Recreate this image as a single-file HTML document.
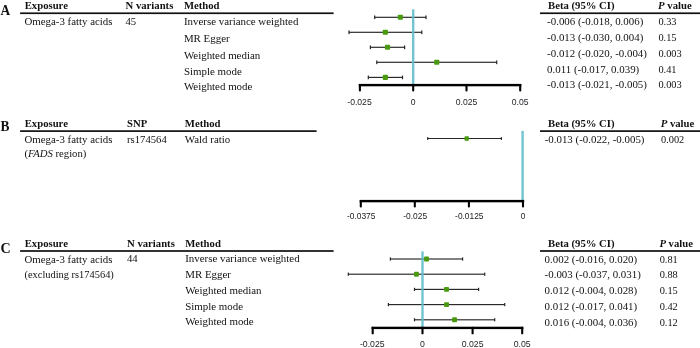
<!DOCTYPE html>
<html><head><meta charset="utf-8"><title>Forest plot</title>
<style>
html,body{margin:0;padding:0;background:#fff;}
body{width:700px;height:348px;overflow:hidden;}
svg{display:block;}
text.s{font-family:"Liberation Serif", serif;}
text.a{font-family:"Liberation Sans", sans-serif;}
text.b{font-weight:bold;}
</style></head><body>
<svg width="700" height="348" viewBox="0 0 700 348">
<rect width="700" height="348" fill="#fff"/>
<text transform="translate(0.6 14.65) scale(1 1.1)" class="s b" font-size="13.4" text-anchor="start" fill="#111" >A</text>
<text transform="translate(24.7 8.9) scale(1 1.05)" class="s b" font-size="10.7" text-anchor="start" fill="#111" >Exposure</text>
<text transform="translate(125.5 8.9) scale(1 1.05)" class="s b" font-size="10.7" text-anchor="start" fill="#111" >N variants</text>
<text transform="translate(183.9 8.9) scale(1 1.05)" class="s b" font-size="10.7" text-anchor="start" fill="#111" >Method</text>
<text transform="translate(548 8.9) scale(1 1.05)" class="s b" font-size="10.7" text-anchor="start" fill="#111" >Beta (95% CI)</text>
<text transform="translate(658.1 8.9) scale(1 1.05)" class="s b" font-size="10.7" fill="#111"><tspan font-style="italic">P</tspan> value</text>
<rect x="20.1" y="12.4" width="313.5" height="1.7" fill="#111"/>
<rect x="540" y="12.4" width="160" height="1.7" fill="#111"/>
<text x="24.5" y="24.9" class="s " font-size="10.85" text-anchor="start" fill="#111" >Omega-3 fatty acids</text>
<text x="125.5" y="24.6" class="s " font-size="10.7" text-anchor="start" fill="#111" >45</text>
<text x="183.9" y="24.6" class="s " font-size="10.92" text-anchor="start" fill="#111" >Inverse variance weighted</text>
<text x="183.9" y="42" class="s " font-size="10.92" text-anchor="start" fill="#111" >MR Egger</text>
<text x="183.9" y="58.8" class="s " font-size="10.92" text-anchor="start" fill="#111" >Weighted median</text>
<text x="183.9" y="74.7" class="s " font-size="10.92" text-anchor="start" fill="#111" >Simple mode</text>
<text x="183.9" y="90.4" class="s " font-size="10.92" text-anchor="start" fill="#111" >Weighted mode</text>
<text x="547.1" y="25.2" class="s " font-size="10.9" text-anchor="start" fill="#111" >-0.006 (-0.018, 0.006)</text>
<text x="547.1" y="40.7" class="s " font-size="10.9" text-anchor="start" fill="#111" >-0.013 (-0.030, 0.004)</text>
<text x="547.1" y="56.8" class="s " font-size="10.9" text-anchor="start" fill="#111" >-0.012 (-0.020, -0.004)</text>
<text x="547.1" y="72.6" class="s " font-size="10.9" text-anchor="start" fill="#111" >0.011 (-0.017, 0.039)</text>
<text x="547.1" y="88.2" class="s " font-size="10.9" text-anchor="start" fill="#111" >-0.013 (-0.021, -0.005)</text>
<text x="658.4" y="25.2" class="s " font-size="10.35" text-anchor="start" fill="#111" >0.33</text>
<text x="658.4" y="40.7" class="s " font-size="10.35" text-anchor="start" fill="#111" >0.15</text>
<text x="658.4" y="56.8" class="s " font-size="10.35" text-anchor="start" fill="#111" >0.003</text>
<text x="658.4" y="72.6" class="s " font-size="10.35" text-anchor="start" fill="#111" >0.41</text>
<text x="658.4" y="88.2" class="s " font-size="10.35" text-anchor="start" fill="#111" >0.003</text>
<rect x="374.7" y="16.73" width="51.4" height="1.15" fill="#262626"/>
<rect x="374.1" y="15.45" width="1.2" height="3.7" fill="#262626"/>
<rect x="425.4" y="15.45" width="1.2" height="3.7" fill="#262626"/>
<rect x="349.0" y="31.72" width="72.8" height="1.15" fill="#262626"/>
<rect x="348.4" y="30.45" width="1.2" height="3.7" fill="#262626"/>
<rect x="421.2" y="30.45" width="1.2" height="3.7" fill="#262626"/>
<rect x="370.4" y="46.72" width="34.2" height="1.15" fill="#262626"/>
<rect x="369.8" y="45.45" width="1.2" height="3.7" fill="#262626"/>
<rect x="404.0" y="45.45" width="1.2" height="3.7" fill="#262626"/>
<rect x="376.8" y="61.72" width="119.8" height="1.15" fill="#262626"/>
<rect x="376.2" y="60.45" width="1.2" height="3.7" fill="#262626"/>
<rect x="496.1" y="60.45" width="1.2" height="3.7" fill="#262626"/>
<rect x="368.3" y="76.83" width="34.2" height="1.15" fill="#262626"/>
<rect x="367.7" y="75.55" width="1.2" height="3.7" fill="#262626"/>
<rect x="401.9" y="75.55" width="1.2" height="3.7" fill="#262626"/>
<rect x="412.0" y="9.3" width="2.4" height="76.9" fill="#62bfcd" fill-opacity="0.9"/>
<rect x="397.8" y="14.75" width="5.1" height="5.1" rx="0.8" fill="#4a9a10"/>
<rect x="382.8" y="29.75" width="5.1" height="5.1" rx="0.8" fill="#4a9a10"/>
<rect x="385.0" y="44.75" width="5.1" height="5.1" rx="0.8" fill="#4a9a10"/>
<rect x="434.2" y="59.75" width="5.1" height="5.1" rx="0.8" fill="#4a9a10"/>
<rect x="382.8" y="74.85" width="5.1" height="5.1" rx="0.8" fill="#4a9a10"/>
<rect x="358.75" y="83.9" width="162.60" height="2.4" fill="#000"/>
<rect x="358.85" y="83.9" width="2.1" height="7.6" rx="0.9" fill="#000"/>
<rect x="412.15" y="83.9" width="2.1" height="7.6" rx="0.9" fill="#000"/>
<rect x="465.45" y="83.9" width="2.1" height="7.6" rx="0.9" fill="#000"/>
<rect x="519.15" y="83.9" width="2.1" height="7.6" rx="0.9" fill="#000"/>
<text x="359.5" y="104.6" class="a " font-size="8.6" text-anchor="middle" fill="#1c1c22" >-0.025</text>
<text x="413.2" y="104.6" class="a " font-size="8.6" text-anchor="middle" fill="#1c1c22" >0</text>
<text x="466.5" y="104.6" class="a " font-size="8.6" text-anchor="middle" fill="#1c1c22" >0.025</text>
<text x="520.2" y="104.6" class="a " font-size="8.6" text-anchor="middle" fill="#1c1c22" >0.05</text>
<text transform="translate(0.6 130.8) scale(1 1.1)" class="s b" font-size="13.4" text-anchor="start" fill="#111" >B</text>
<text transform="translate(24.7 126.8) scale(1 1.05)" class="s b" font-size="10.7" text-anchor="start" fill="#111" >Exposure</text>
<text transform="translate(127 126.8) scale(1 1.05)" class="s b" font-size="10.7" text-anchor="start" fill="#111" >SNP</text>
<text transform="translate(184.8 126.8) scale(1 1.05)" class="s b" font-size="10.7" text-anchor="start" fill="#111" >Method</text>
<text transform="translate(548 126.8) scale(1 1.05)" class="s b" font-size="10.7" text-anchor="start" fill="#111" >Beta (95% CI)</text>
<text transform="translate(660.7 126.8) scale(1 1.05)" class="s b" font-size="10.7" fill="#111"><tspan font-style="italic">P</tspan> value</text>
<rect x="20.1" y="130.25" width="296.5" height="1.7" fill="#111"/>
<rect x="540" y="130.25" width="160" height="1.7" fill="#111"/>
<text x="24.5" y="142.7" class="s " font-size="10.85" text-anchor="start" fill="#111" >Omega-3 fatty acids</text>
<text x="24.5" y="157.1" class="s " font-size="10.7" text-anchor="start" fill="#111" >(<tspan font-style="italic">FADS</tspan> region)</text>
<text x="127" y="142.7" class="s " font-size="10.7" text-anchor="start" fill="#111" >rs174564</text>
<text x="184.8" y="142.7" class="s " font-size="10.92" text-anchor="start" fill="#111" >Wald ratio</text>
<text x="544.7" y="142.7" class="s " font-size="10.9" text-anchor="start" fill="#111" >-0.013 (-0.022, -0.005)</text>
<text x="661" y="142.7" class="s " font-size="10.35" text-anchor="start" fill="#111" >0.002</text>
<rect x="427.7" y="138.00" width="73.6" height="1.0" fill="#262626"/>
<rect x="427.1" y="137.10" width="1.2" height="2.8" fill="#262626"/>
<rect x="500.8" y="137.10" width="1.2" height="2.8" fill="#262626"/>
<rect x="521.4" y="130.9" width="2.4" height="71.3" fill="#62bfcd" fill-opacity="0.9"/>
<rect x="464.5" y="136.30" width="4.4" height="4.4" rx="0.8" fill="#4a9a10"/>
<rect x="359.65" y="199.9" width="164.50" height="2.4" fill="#000"/>
<rect x="359.75" y="199.9" width="2.1" height="7.6" rx="0.9" fill="#000"/>
<rect x="413.75" y="199.9" width="2.1" height="7.6" rx="0.9" fill="#000"/>
<rect x="467.85" y="199.9" width="2.1" height="7.6" rx="0.9" fill="#000"/>
<rect x="521.95" y="199.9" width="2.1" height="7.6" rx="0.9" fill="#000"/>
<text x="361.2" y="218.9" class="a " font-size="8.4" text-anchor="middle" fill="#1c1c22" >-0.0375</text>
<text x="415.2" y="218.9" class="a " font-size="8.4" text-anchor="middle" fill="#1c1c22" >-0.025</text>
<text x="469.3" y="218.9" class="a " font-size="8.4" text-anchor="middle" fill="#1c1c22" >-0.0125</text>
<text x="523" y="218.9" class="a " font-size="8.4" text-anchor="middle" fill="#1c1c22" >0</text>
<text transform="translate(0.6 252.5) scale(1 1.1)" class="s b" font-size="14.1" text-anchor="start" fill="#111" >C</text>
<text transform="translate(24.7 246.7) scale(1 1.05)" class="s b" font-size="10.7" text-anchor="start" fill="#111" >Exposure</text>
<text transform="translate(127 246.7) scale(1 1.05)" class="s b" font-size="10.7" text-anchor="start" fill="#111" >N variants</text>
<text transform="translate(185.2 246.7) scale(1 1.05)" class="s b" font-size="10.7" text-anchor="start" fill="#111" >Method</text>
<text transform="translate(548 246.7) scale(1 1.05)" class="s b" font-size="10.7" text-anchor="start" fill="#111" >Beta (95% CI)</text>
<text transform="translate(659.4000000000001 246.7) scale(1 1.05)" class="s b" font-size="10.7" fill="#111"><tspan font-style="italic">P</tspan> value</text>
<rect x="20.1" y="250.15" width="313.5" height="1.7" fill="#111"/>
<rect x="540" y="250.15" width="160" height="1.7" fill="#111"/>
<text x="24.5" y="262.5" class="s " font-size="10.85" text-anchor="start" fill="#111" >Omega-3 fatty acids</text>
<text x="24.5" y="277.9" class="s " font-size="10.42" text-anchor="start" fill="#111" >(excluding rs174564)</text>
<text x="127" y="262.2" class="s " font-size="10.7" text-anchor="start" fill="#111" >44</text>
<text x="185.2" y="262.2" class="s " font-size="10.92" text-anchor="start" fill="#111" >Inverse variance weighted</text>
<text x="185.2" y="278.1" class="s " font-size="10.92" text-anchor="start" fill="#111" >MR Egger</text>
<text x="185.2" y="293.8" class="s " font-size="10.92" text-anchor="start" fill="#111" >Weighted median</text>
<text x="185.2" y="309.6" class="s " font-size="10.92" text-anchor="start" fill="#111" >Simple mode</text>
<text x="185.2" y="325.3" class="s " font-size="10.92" text-anchor="start" fill="#111" >Weighted mode</text>
<text x="544.6" y="262.7" class="s " font-size="10.9" text-anchor="start" fill="#111" >0.002 (-0.016, 0.020)</text>
<text x="544.6" y="278.2" class="s " font-size="10.9" text-anchor="start" fill="#111" >-0.003 (-0.037, 0.031)</text>
<text x="544.6" y="294.1" class="s " font-size="10.9" text-anchor="start" fill="#111" >0.012 (-0.004, 0.028)</text>
<text x="544.6" y="309.8" class="s " font-size="10.9" text-anchor="start" fill="#111" >0.012 (-0.017, 0.041)</text>
<text x="544.6" y="325.5" class="s " font-size="10.9" text-anchor="start" fill="#111" >0.016 (-0.004, 0.036)</text>
<text x="659.7" y="262.7" class="s " font-size="10.35" text-anchor="start" fill="#111" >0.81</text>
<text x="659.7" y="278.2" class="s " font-size="10.35" text-anchor="start" fill="#111" >0.88</text>
<text x="659.7" y="294.1" class="s " font-size="10.35" text-anchor="start" fill="#111" >0.15</text>
<text x="659.7" y="309.8" class="s " font-size="10.35" text-anchor="start" fill="#111" >0.42</text>
<text x="659.7" y="325.5" class="s " font-size="10.35" text-anchor="start" fill="#111" >0.12</text>
<rect x="390.4" y="258.43" width="72.2" height="1.15" fill="#262626"/>
<rect x="389.8" y="257.40" width="1.2" height="3.2" fill="#262626"/>
<rect x="462.0" y="257.40" width="1.2" height="3.2" fill="#262626"/>
<rect x="348.3" y="273.62" width="136.3" height="1.15" fill="#262626"/>
<rect x="347.7" y="272.60" width="1.2" height="3.2" fill="#262626"/>
<rect x="484.1" y="272.60" width="1.2" height="3.2" fill="#262626"/>
<rect x="414.5" y="288.82" width="64.2" height="1.15" fill="#262626"/>
<rect x="413.9" y="287.80" width="1.2" height="3.2" fill="#262626"/>
<rect x="478.0" y="287.80" width="1.2" height="3.2" fill="#262626"/>
<rect x="388.4" y="304.03" width="116.3" height="1.15" fill="#262626"/>
<rect x="387.8" y="303.00" width="1.2" height="3.2" fill="#262626"/>
<rect x="504.1" y="303.00" width="1.2" height="3.2" fill="#262626"/>
<rect x="414.5" y="319.23" width="80.2" height="1.15" fill="#262626"/>
<rect x="413.9" y="318.20" width="1.2" height="3.2" fill="#262626"/>
<rect x="494.1" y="318.20" width="1.2" height="3.2" fill="#262626"/>
<rect x="421.3" y="251.4" width="2.4" height="77.6" fill="#62bfcd" fill-opacity="0.9"/>
<rect x="424.1" y="256.55" width="4.9" height="4.9" rx="0.8" fill="#4a9a10"/>
<rect x="414.0" y="271.75" width="4.9" height="4.9" rx="0.8" fill="#4a9a10"/>
<rect x="444.1" y="286.95" width="4.9" height="4.9" rx="0.8" fill="#4a9a10"/>
<rect x="444.1" y="302.15" width="4.9" height="4.9" rx="0.8" fill="#4a9a10"/>
<rect x="452.1" y="317.35" width="4.9" height="4.9" rx="0.8" fill="#4a9a10"/>
<rect x="371.55" y="326.7" width="151.80" height="2.4" fill="#000"/>
<rect x="371.65" y="326.7" width="2.1" height="7.6" rx="0.9" fill="#000"/>
<rect x="421.45" y="326.7" width="2.1" height="7.6" rx="0.9" fill="#000"/>
<rect x="471.55" y="326.7" width="2.1" height="7.6" rx="0.9" fill="#000"/>
<rect x="521.15" y="326.7" width="2.1" height="7.6" rx="0.9" fill="#000"/>
<text x="372.3" y="346.6" class="a " font-size="8.7" text-anchor="middle" fill="#1c1c22" >-0.025</text>
<text x="422.5" y="346.6" class="a " font-size="8.7" text-anchor="middle" fill="#1c1c22" >0</text>
<text x="472.6" y="346.6" class="a " font-size="8.7" text-anchor="middle" fill="#1c1c22" >0.025</text>
<text x="522.2" y="346.6" class="a " font-size="8.7" text-anchor="middle" fill="#1c1c22" >0.05</text>
</svg>
</body></html>
